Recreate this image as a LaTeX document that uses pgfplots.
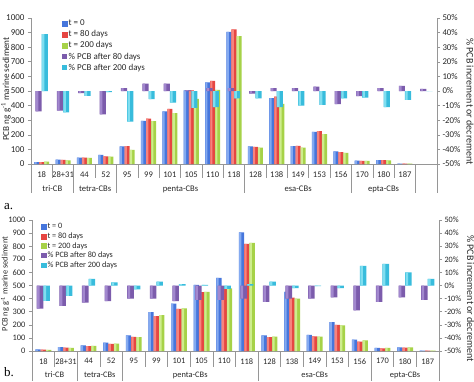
\documentclass[border=0pt]{standalone}
\usepackage{fontspec}
\setmainfont{Carlito}
\newfontfamily\serifF{Liberation Serif}
\usepackage{pgfplots}
\usepackage{pgfplotstable}
\pgfplotsset{compat=1.18}

\definecolor{cB}{RGB}{70,118,220}
\definecolor{cBl}{RGB}{132,170,240}
\definecolor{cR}{RGB}{230,70,66}
\definecolor{cRl}{RGB}{246,132,126}
\definecolor{cG}{RGB}{166,210,72}
\definecolor{cGl}{RGB}{206,236,142}
\definecolor{cP}{RGB}{124,92,172}
\definecolor{cPl}{RGB}{162,136,206}
\definecolor{cC}{RGB}{56,188,220}
\definecolor{cCl}{RGB}{128,222,240}
\definecolor{axgray}{RGB}{150,150,150}
\definecolor{txt}{RGB}{40,40,40}

\newcommand{\fs}[1]{\fontsize{#1}{#1}\selectfont}

\pgfplotsset{
  legB/.style={legend image code/.code={\fill[cB] (0pt,-2.6pt) rectangle (5.2pt,2.6pt);}},
  legR/.style={legend image code/.code={\fill[cR] (0pt,-2.6pt) rectangle (5.2pt,2.6pt);}},
  legG/.style={legend image code/.code={\fill[cG] (0pt,-2.6pt) rectangle (5.2pt,2.6pt);}},
  legP/.style={legend image code/.code={\fill[cP] (0pt,-2.6pt) rectangle (5.2pt,2.6pt);}},
  legC/.style={legend image code/.code={\fill[cC] (0pt,-2.6pt) rectangle (5.2pt,2.6pt);}},
}

% panel a: values in ng/g
\pgfplotstableread{
x t0 t80 t200
0 13 12 16.7
1 30 28 24
2 43 43 41.5
3 63 53 51
4 120 123 97
5 296 310 293
6 361 378 348
7 504 504 446
8 559 570 507
9 905 922 876
10 120 118 112
11 452 462 411
12 123 124 112
13 220 226 205
14 87 81 77
15 23 22 21
16 27 27 24
17 3 3 2.8
}\dA
\pgfplotstableread{
x p80 p200
0 -14 39
1 -13.5 -14.6
2 -1.4 -3.4
3 -16 -0.8
4 2 -21
5 5 -5.5
6 5 -8
7 0.4 -11.6
8 2 -11
9 2 -5
10 -1.8 -5
11 2 -11
12 2 -10
13 3 -9.5
14 -9 -5
15 -3.5 -4.5
16 2 -11
17 3.5 -6
18 1.5 0
}\pA
% panel b
\pgfplotstableread{
x t0 t80 t200
0 13 10.5 9.3
1 30 26 24
2 43 37 39
3 63 55 56
4 120 108 105
5 296 266 274
6 361 322 325
7 504 450 452
8 559 490 478
9 905 818 826
10 120 106 109
11 452 407 399
12 123 111 110
13 220 200 196
14 87 71 82
15 23 20 23
16 27 25 27.5
17 3 2.7 2.8
}\dB
\pgfplotstableread{
x p80 p200
0 -17.6 -11.7
1 -15.5 -8
2 -13 5
3 -12 2.3
4 -10 -3
5 -10 3
6 -12 1
7 -11 0.5
8 -11 -2.5
9 -10 1
10 -12.5 3
11 -10 -2
12 -10 -0.5
13 -9 -2
14 -19 15
15 -12.5 16.5
16 -9 10
17 -11 5
}\pB

\pgfplotsset{
  prim/.style={
    scale only axis, ymin=0, ymax=1000, xmin=-0.5,
    axis x line*=bottom, axis y line*=left,
    axis line style={axgray, line width=0.6pt},
    ybar=0pt, bar width=0.235,
    xtick={0,...,17},
    xticklabels={18,28+31,44,52,95,99,101,105,110,118,128,138,149,153,156,170,180,187},
    major x tick style={draw=none},
    ytick={0,100,...,1000},
    yticklabels={0,100,200,300,400,500,600,700,800,900,1000},
    tick align=outside, major tick length=3pt,
    y tick style={axgray, line width=0.6pt},
    ticklabel style={text=txt},
  },
  sec/.style={
    scale only axis, ymin=-50, ymax=50, xmin=-0.5,
    axis x line=none, axis y line*=right,
    axis line style={axgray, line width=0.6pt},
    ybar=0pt, bar width=0.29,
    ytick={-50,-40,...,50},
    yticklabels={-50\%,-40\%,-30\%,-20\%,-10\%,0\%,10\%,20\%,30\%,40\%,50\%},
    tick align=outside, major tick length=3pt,
    y tick style={axgray, line width=0.6pt},
    ticklabel style={text=txt},
    legend cell align=left,
  },
}

\begin{document}
\begin{tikzpicture}[x=1pt,y=1pt]
\path[use as bounding box] (0,0) rectangle (474,381);

% ================= panel a =================
\begin{axis}[prim, at={(31pt,217pt)}, anchor=south west, width=406pt, height=146pt,
  xmax=18.5, ticklabel style={font=\fs{9}}, xticklabel style={font=\fs{8.6}, yshift=-1pt}]
\addplot[fill=cB, draw=none, bar shift=-0.235] table[x=x,y=t0]{\dA};
\addplot[fill=cR, draw=none, bar shift=0] table[x=x,y=t80]{\dA};
\addplot[fill=cG, draw=none, bar shift=0.235] table[x=x,y=t200]{\dA};
\addplot[fill=cBl, draw=none, bar shift=-0.2925, bar width=0.1, forget plot] table[x=x,y=t0]{\dA};
\addplot[fill=cRl, draw=none, bar shift=-0.0575, bar width=0.1, forget plot] table[x=x,y=t80]{\dA};
\addplot[fill=cGl, draw=none, bar shift=0.1775, bar width=0.1, forget plot] table[x=x,y=t200]{\dA};
\end{axis}
\begin{axis}[sec, at={(31pt,217pt)}, anchor=south west, width=406pt, height=146pt,
  xmax=18.5, ticklabel style={font=\fs{8.8}}, yticklabel style={xshift=-1pt},
  legend style={at={(0.076,1.0)}, anchor=north west, draw=none, fill=none, inner sep=0pt,
    row sep=0.6pt, font=\fs{9}, text=txt,
    nodes={inner sep=1pt, text height=6.5pt, text depth=2pt}}]
\addlegendimage{legB}\addlegendentry{t = 0}
\addlegendimage{legR}\addlegendentry{t = 80 days}
\addlegendimage{legG}\addlegendentry{t = 200 days}
\addplot[fill=cP, draw=none, bar shift=-0.145, legP] table[x=x,y=p80]{\pA};
\addlegendentry{\% PCB after 80 days}
\addplot[fill=cC, draw=none, bar shift=0.145, legC] table[x=x,y=p200]{\pA};
\addlegendentry{\% PCB after 200 days}
\addplot[fill=cPl, draw=none, bar shift=-0.215, bar width=0.11, forget plot] table[x=x,y=p80]{\pA};
\addplot[fill=cCl, draw=none, bar shift=0.075, bar width=0.11, forget plot] table[x=x,y=p200]{\pA};
\end{axis}

\foreach \k in {1,...,18} \draw[axgray, line width=0.6pt] ({31+\k*406/19},217) -- ++(0,-14);
\foreach \k in {0,2,4,10,15,18,19} \draw[axgray, line width=0.6pt] ({31+\k*406/19},217) -- ++(0,-29);
\foreach \c/\t in {1/tri-CB, 3/tetra-CBs, 7/penta-CBs, 12.5/esa-CBs, 16.5/epta-CBs}
  \node[font=\fs{8.6}, text=txt] at ({31+\c*406/19},192) {\t};
\node[font=\fs{9.2}, text=txt, rotate=90] at (6,292) {PCB ng g\textsuperscript{-1} marine sediment};
\node[font=\fs{10}, text=txt, rotate=-90, anchor=west, inner sep=0pt] at (470,343) {\% PCB increment or decrement};
\node[font=\serifF\fs{13}, anchor=west, inner sep=0pt] at (4,174) {a.};

% ================= panel b =================
\begin{axis}[prim, at={(32pt,30pt)}, anchor=south west, width=407pt, height=131pt,
  xmax=17.5, ticklabel style={font=\fs{8.4}}, xticklabel style={font=\fs{8.4}, yshift=-1pt}]
\addplot[fill=cB, draw=none, bar shift=-0.235] table[x=x,y=t0]{\dB};
\addplot[fill=cR, draw=none, bar shift=0] table[x=x,y=t80]{\dB};
\addplot[fill=cG, draw=none, bar shift=0.235] table[x=x,y=t200]{\dB};
\addplot[fill=cBl, draw=none, bar shift=-0.2925, bar width=0.1, forget plot] table[x=x,y=t0]{\dB};
\addplot[fill=cRl, draw=none, bar shift=-0.0575, bar width=0.1, forget plot] table[x=x,y=t80]{\dB};
\addplot[fill=cGl, draw=none, bar shift=0.1775, bar width=0.1, forget plot] table[x=x,y=t200]{\dB};
\end{axis}
\begin{axis}[sec, at={(32pt,30pt)}, anchor=south west, width=407pt, height=131pt,
  xmax=17.5, ticklabel style={font=\fs{8.2}}, yticklabel style={xshift=-1pt},
  legend style={at={(0.022,0.985)}, anchor=north west, draw=none, fill=none, inner sep=0pt,
    row sep=0.3pt, font=\fs{8.2}, text=txt,
    nodes={inner sep=0.8pt, text height=5.9pt, text depth=1.8pt}}]
\addlegendimage{legB}\addlegendentry{t = 0}
\addlegendimage{legR}\addlegendentry{t = 80 days}
\addlegendimage{legG}\addlegendentry{t = 200 days}
\addplot[fill=cP, draw=none, bar shift=-0.145, legP] table[x=x,y=p80]{\pB};
\addlegendentry{\% PCB after 80 days}
\addplot[fill=cC, draw=none, bar shift=0.145, legC] table[x=x,y=p200]{\pB};
\addlegendentry{\% PCB after 200 days}
\addplot[fill=cPl, draw=none, bar shift=-0.215, bar width=0.11, forget plot] table[x=x,y=p80]{\pB};
\addplot[fill=cCl, draw=none, bar shift=0.075, bar width=0.11, forget plot] table[x=x,y=p200]{\pB};
\end{axis}

\foreach \k in {1,...,17} \draw[axgray, line width=0.6pt] ({32+\k*407/18},30) -- ++(0,-16);
\foreach \k in {0,2,4,10,15,18} \draw[axgray, line width=0.6pt] ({32+\k*407/18},30) -- ++(0,-30);
\foreach \c/\t in {1/tri-CB, 3/tetra-CBs, 7/penta-CBs, 12.5/esa-CBs, 16.5/epta-CBs}
  \node[font=\fs{8.4}, text=txt] at ({32+\c*407/18},6) {\t};
\node[font=\fs{8.4}, text=txt, rotate=90] at (5,97) {PCB ng g\textsuperscript{-1} marine sediment};
\node[font=\fs{10}, text=txt, rotate=-90, anchor=west, inner sep=0pt] at (470.5,146) {\% PCB increment or decrement};
\node[font=\serifF\fs{13}, anchor=west, inner sep=0pt] at (4,9) {b.};
\end{tikzpicture}
\end{document}
